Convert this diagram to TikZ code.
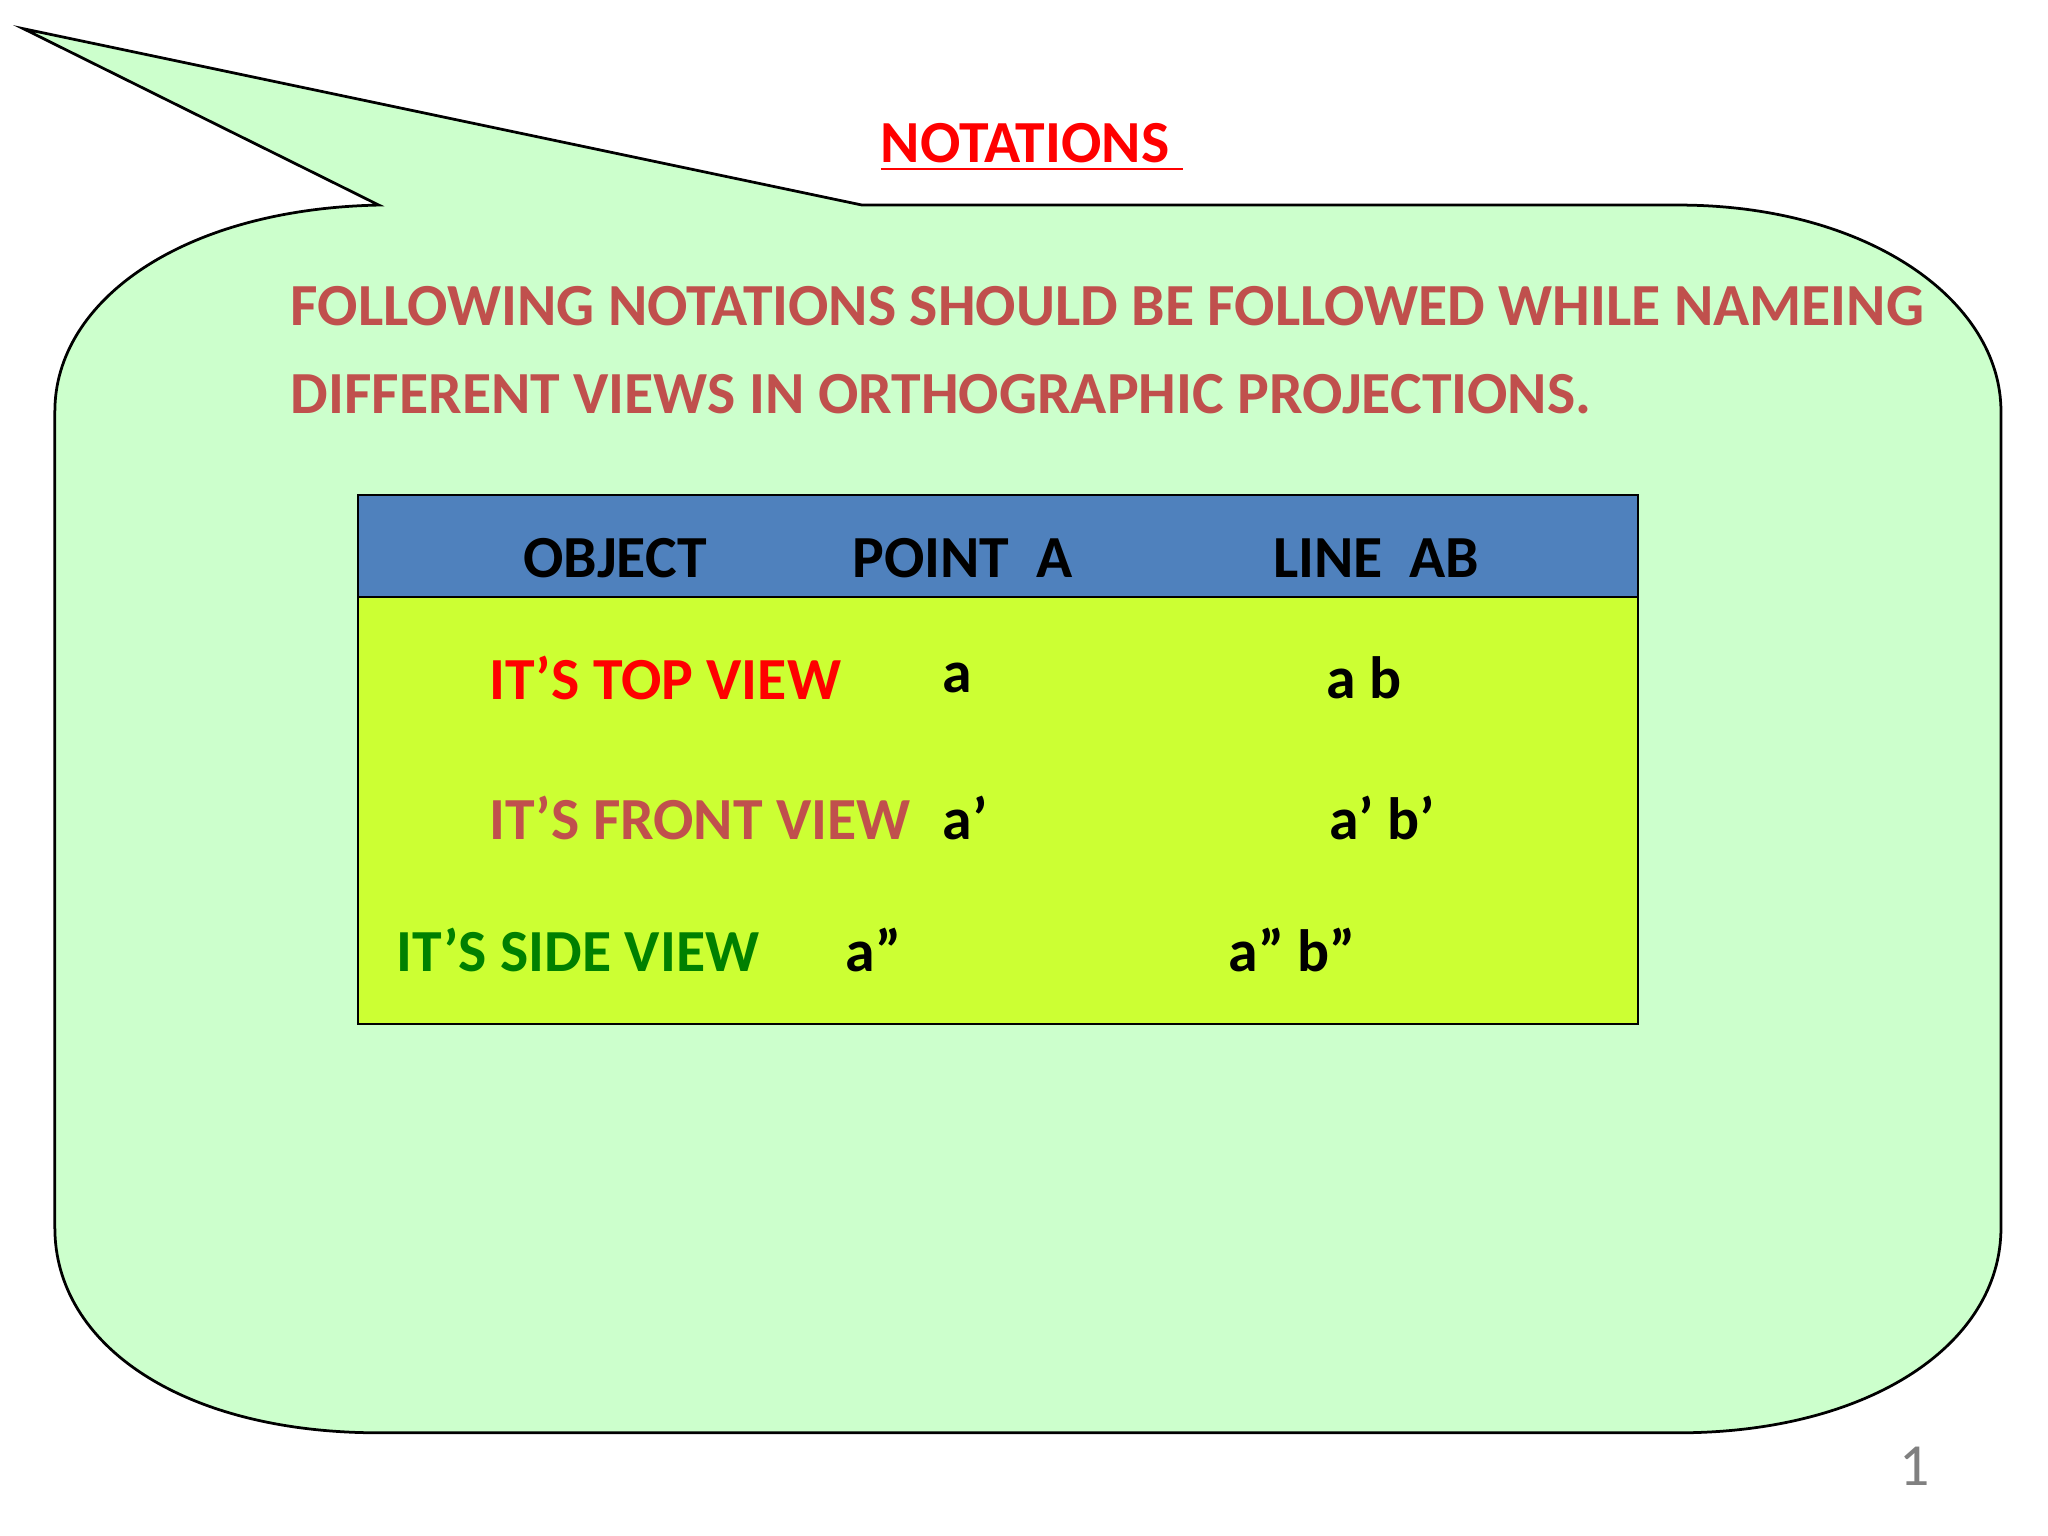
\documentclass[tikz,border=0pt]{standalone}
\usepackage{fontspec}
\setmainfont{Carlito}
\usetikzlibrary{positioning}
\definecolor{bubble}{RGB}{204,255,204}
\definecolor{headblue}{RGB}{79,129,189}
\definecolor{bodylime}{RGB}{204,255,51}
\definecolor{brick}{RGB}{192,80,77}
\definecolor{sidegreen}{RGB}{0,128,0}
\tikzset{
  txt/.style={font=\bfseries\fontsize{13}{16}\selectfont, inner sep=0pt},
  cell/.style={txt, anchor=west},
}
\begin{document}
\begin{tikzpicture}[x=0.01cm, y=-0.01cm]
	\useasboundingbox (0,0) rectangle (1568,1176);
	% callout
	\draw[fill=bubble, line width=0.6pt] (18,22) -- (290,157)
		.. controls (140,160) and (42,230) .. (42,315) -- (42,940)
		.. controls (42,1030) and (140,1097) .. (290,1097) -- (1285,1097)
		.. controls (1430,1097) and (1532,1030) .. (1532,940) -- (1532,315)
		.. controls (1532,230) and (1430,157) .. (1285,157) -- (660,157) -- cycle;
	\node[txt, text=red] (title) at (790,113) {\underline{NOTATIONS\ }};
	\node[txt, text=brick, anchor=west, align=left] (intro) at (222,268)
		{FOLLOWING NOTATIONS SHOULD BE FOLLOWED WHILE NAMEING\\[3pt]
		 DIFFERENT VIEWS IN ORTHOGRAPHIC PROJECTIONS.};
	% table
	\draw[fill=bodylime] (274,379) rectangle (1254,784);
	\draw[fill=headblue] (274,379) rectangle (1254,457);
	\node[cell] (hobj) at (400,427) {OBJECT};
	\node[cell] (hpt) at (652,427) {POINT\ \ A};
	\node[cell] (hline) at (974,427) {LINE\ \ AB};
	\node[cell, text=red] (top) at (374,519) {IT’S TOP VIEW};
	\node[cell] (topa) at (721,519) {a};
	\node[cell] (topab) at (1015,519) {a b};
	\node[cell, text=brick] (front) at (374,626) {IT’S FRONT VIEW};
	\node[cell] (fronta) at (721,626) {a’};
	\node[cell] (frontab) at (1017,626) {a’ b’};
	\node[cell, text=sidegreen] (side) at (303,727) {IT’S SIDE VIEW};
	\node[cell] (sidea) at (647,727) {a”};
	\node[cell] (sideab) at (940,727) {a” b”};
	\node[font=\fontsize{13}{16}\selectfont, text=gray, inner sep=0pt] (page) at (1466,1123) {1};
\end{tikzpicture}
\end{document}
